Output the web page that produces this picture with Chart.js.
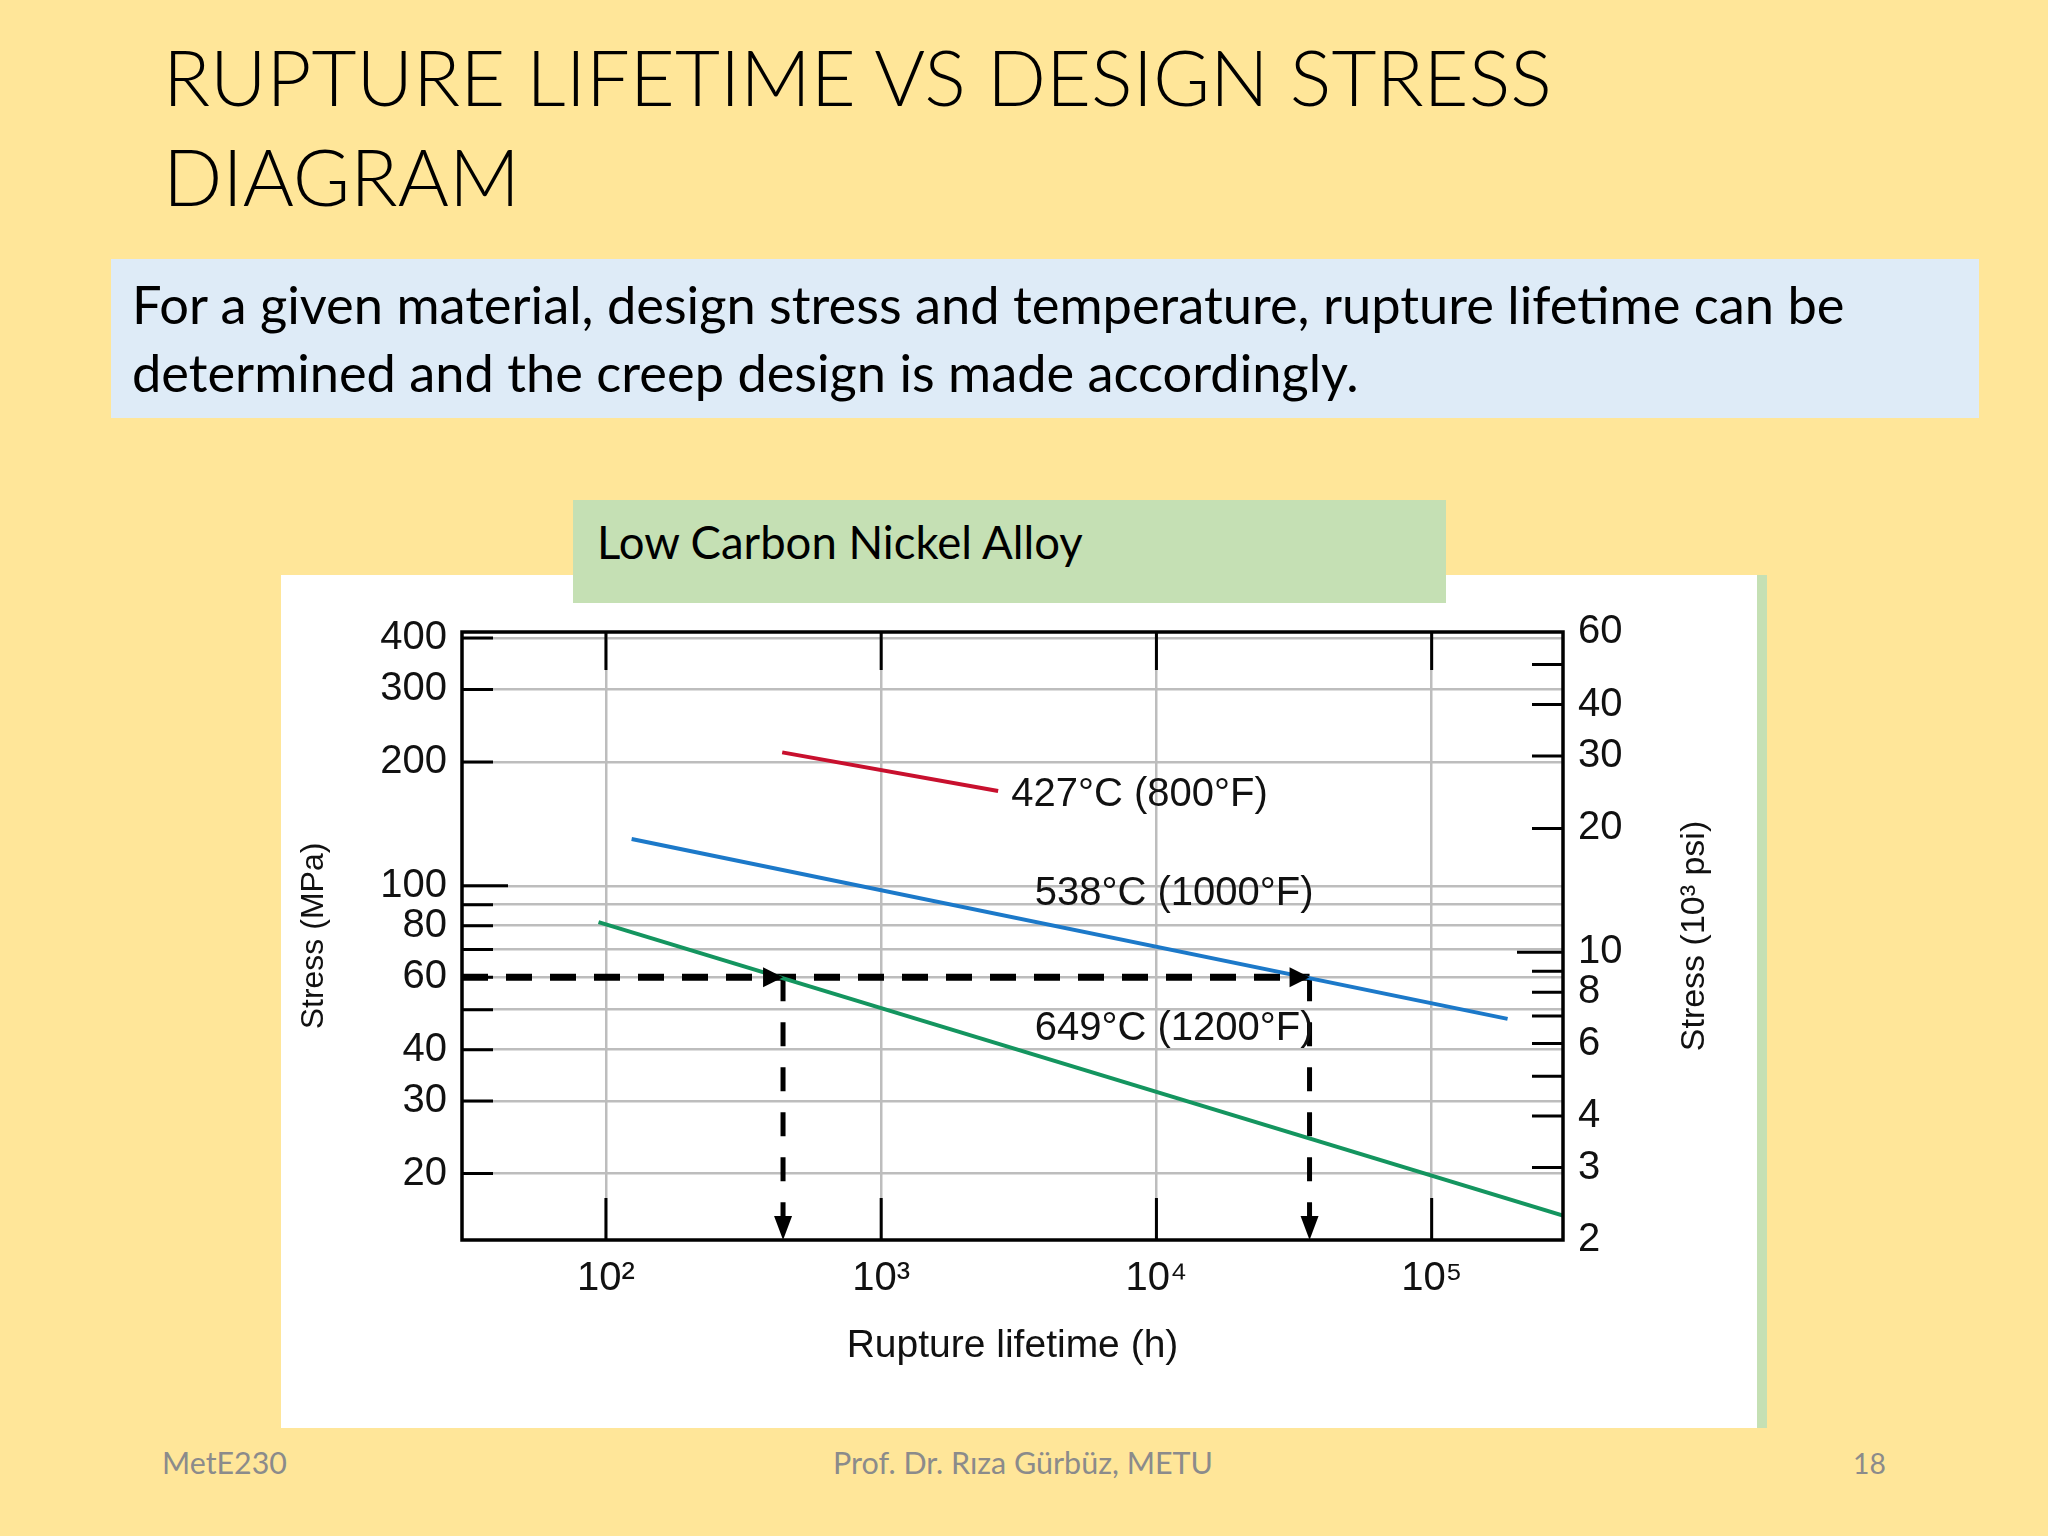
<!DOCTYPE html>
<html>
<head>
<meta charset="utf-8">
<script src="https://cdn.jsdelivr.net/npm/chart.js@4.4.1/dist/chart.umd.min.js"></script>
<style>
html, body { margin: 0; padding: 0; }
body { width: 2048px; height: 1536px; background: #FFE699; position: relative; overflow: hidden; font-family: Lato, "Open Sans", sans-serif; }
.box { position: absolute; }
.txt { position: absolute; white-space: nowrap; line-height: 1; color: #000; }
</style>
</head>
<body>
<div class="box" style="left:111px;top:259px;width:1868px;height:159px;background:#DEEBF7"></div>
<div class="box" style="left:281px;top:575px;width:1476px;height:853px;background:#fff"></div>
<div class="box" style="left:1757px;top:575px;width:10px;height:853px;background:#C5E0B4"></div>
<div class="box" style="left:573px;top:500px;width:873px;height:103px;background:#C5E0B4"></div>
<canvas id="chart" width="1476" height="853" style="position:absolute;left:281px;top:575px"></canvas>
<script>
// rupture lifetime (h) / stress (MPa), two ends of each line
const lifeRed = [437, 2660];
const stressRed = [211, 170];
const lifeBlue = [124, 188700];
const stressBlue = [130, 47.5];
const lifeGreen = [94, 300000];
const stressGreen = [81.6, 15.8];
const seriesNames = ['427°C (800°F)', '538°C (1000°F)', '649°C (1200°F)'];

// design stress example: 60 MPa -> ~440 h at 649°C, ~3.6x10^4 h at 538°C
const designStress = 60;
const lifeAt649 = 440;
const lifeAt538 = 36000;

// axes
const lifeMin = 30, lifeMax = 300000;
const ksiMin = 2, ksiMax = 60;
const MPA_PER_KSI = 6.89476;
const lifeTicks = [100, 1000, 10000, 100000];
const mpaTicks = [20, 30, 40, 50, 60, 70, 80, 90, 100, 200, 300, 400];
const mpaLabels = [20, 30, 40, 60, 80, 100, 200, 300, 400];
const ksiTicks = [3, 4, 5, 6, 7, 8, 9, 10, 20, 30, 40, 50];
const ksiLabels = [2, 3, 4, 6, 8, 10, 20, 30, 40, 60];

// where the curve names sit (h, MPa)
const nameLife = [2970, 3615, 3615];
const nameStress = [165.8, 95.8, 44.8];

const mpaMin = ksiMin * MPA_PER_KSI, mpaMax = ksiMax * MPA_PER_KSI;

// slide text, sized to the widths in the original slide
function place(text, left, baseline, width, opts) {
  opts = opts || {};
  const el = document.createElement('div');
  el.className = 'txt';
  el.textContent = text;
  el.style.fontSize = '60px';
  if (opts.weight) el.style.fontWeight = opts.weight;
  if (opts.color) el.style.color = opts.color;
  document.body.appendChild(el);
  let size = 60 * width / el.offsetWidth;
  el.style.fontSize = size + 'px';
  size = size * width / el.offsetWidth;
  el.style.fontSize = size + 'px';
  el.style.left = left + 'px';
  el.style.top = (baseline - 0.887 * size) + 'px';
}
place('RUPTURE LIFETIME VS DESIGN STRESS', 163, 107, 1389, {weight: 300});
place('DIAGRAM', 163, 206, 357, {weight: 300});
place('For a given material, design stress and temperature, rupture lifetime can be', 132, 324, 1713);
place('determined and the creep design is made accordingly.', 132, 392, 1226);
place('Low Carbon Nickel Alloy', 597, 559, 486);
place('MetE230', 162, 1474, 125, {color: '#8B8B8B'});
place('Prof. Dr. Rıza Gürbüz, METU', 833, 1474, 380, {color: '#8B8B8B'});
place('18', 1853, 1474, 33, {color: '#8B8B8B'});

function pts(xs, ys) {
  return xs.map((x, i) => ({x: x, y: ys[i]}));
}
const sup = {2: '²', 3: '³', 4: '⁴', 5: '⁵'};

Chart.defaults.font.family = '"Liberation Sans", Arial, sans-serif';
Chart.defaults.color = '#111';

const decor = {
  id: 'decor',
  afterDraw(chart) {
    const ctx = chart.ctx;
    const {left, right, top, bottom} = chart.chartArea;
    const xs = chart.scales.x, ys = chart.scales.y, ys2 = chart.scales.y2;
    ctx.save();
    ctx.strokeStyle = '#000';
    ctx.fillStyle = '#000';
    ctx.lineWidth = 3;
    ctx.beginPath();
    mpaTicks.forEach(v => {
      const py = ys.getPixelForValue(v);
      ctx.moveTo(left, py); ctx.lineTo(left + (v === 100 ? 46 : 31), py);
    });
    ksiTicks.forEach(v => {
      const py = ys2.getPixelForValue(v);
      ctx.moveTo(right, py); ctx.lineTo(right - (v === 10 ? 46 : 31), py);
    });
    lifeTicks.forEach(v => {
      const px = xs.getPixelForValue(v);
      ctx.moveTo(px, top); ctx.lineTo(px, top + 38);
      ctx.moveTo(px, bottom); ctx.lineTo(px, bottom - 42);
    });
    ctx.stroke();
    ctx.lineWidth = 3.5;
    ctx.strokeRect(left, top, right - left, bottom - top);

    // arrow heads
    const yd = ys.getPixelForValue(designStress);
    [lifeAt649, lifeAt538].forEach(v => {
      const px = xs.getPixelForValue(v);
      ctx.beginPath();
      ctx.moveTo(px, yd); ctx.lineTo(px - 20, yd - 10); ctx.lineTo(px - 20, yd + 10); ctx.closePath();
      ctx.fill();
      ctx.beginPath();
      ctx.moveTo(px, bottom); ctx.lineTo(px - 9, bottom - 24); ctx.lineTo(px + 9, bottom - 24); ctx.closePath();
      ctx.fill();
    });

    // curve names
    ctx.font = '40px "Liberation Sans", Arial, sans-serif';
    ctx.fillStyle = '#111';
    ctx.textAlign = 'left';
    ctx.textBaseline = 'middle';
    seriesNames.forEach((s, i) => {
      ctx.fillText(s, xs.getPixelForValue(nameLife[i]), ys.getPixelForValue(nameStress[i]));
    });

    // right axis title, reading upwards
    ctx.translate(1414, (top + bottom) / 2);
    ctx.rotate(-Math.PI / 2);
    ctx.textAlign = 'center';
    ctx.font = '34px "Liberation Sans", Arial, sans-serif';
    ctx.fillText('Stress (10³ psi)', 0, 0);
    ctx.restore();
  }
};

const ctx = document.getElementById('chart').getContext('2d');
const chart = new Chart(ctx, {
  type: 'line',
  data: {
    datasets: [
      {label: seriesNames[0], data: pts(lifeRed, stressRed), borderColor: '#C8102E', borderWidth: 4, pointRadius: 0},
      {label: seriesNames[1], data: pts(lifeBlue, stressBlue), borderColor: '#1C79C9', borderWidth: 4, pointRadius: 0},
      {label: seriesNames[2], data: pts(lifeGreen, stressGreen), borderColor: '#14955F', borderWidth: 4, pointRadius: 0},
      {label: 'design', data: [{x: lifeMin, y: designStress}, {x: lifeAt538, y: designStress}],
        borderColor: '#000', borderWidth: 7, borderDash: [26, 18], pointRadius: 0},
      {label: 'life649', data: [{x: lifeAt649, y: designStress}, {x: lifeAt649, y: mpaMin}],
        borderColor: '#000', borderWidth: 5, borderDash: [24, 21], pointRadius: 0},
      {label: 'life538', data: [{x: lifeAt538, y: designStress}, {x: lifeAt538, y: mpaMin}],
        borderColor: '#000', borderWidth: 5, borderDash: [24, 21], pointRadius: 0}
    ]
  },
  options: {
    responsive: false,
    animation: false,
    layout: {padding: {top: 57, left: 0, right: 0, bottom: 0}},
    plugins: {legend: {display: false}, tooltip: {enabled: false}},
    scales: {
      x: {
        type: 'logarithmic',
        min: lifeMin,
        max: lifeMax,
        afterBuildTicks: s => { s.ticks = lifeTicks.map(v => ({value: v})); },
        afterFit: s => { s.height = 188; },
        grid: {color: '#BDBDBD', lineWidth: 2.5, drawTicks: false},
        border: {display: false},
        ticks: {
          autoSkip: false, maxRotation: 0, padding: 15, font: {size: 40},
          callback: v => '10' + sup[Math.round(Math.log10(v))]
        },
        title: {display: true, text: 'Rupture lifetime (h)', font: {size: 39}, padding: {top: 0, bottom: 58}}
      },
      y: {
        type: 'logarithmic',
        position: 'left',
        min: mpaMin,
        max: mpaMax,
        afterBuildTicks: s => { s.ticks = mpaTicks.map(v => ({value: v})); },
        afterFit: s => { s.width = 181; },
        grid: {color: '#BDBDBD', lineWidth: 2.5, drawTicks: false},
        border: {display: false},
        ticks: {
          autoSkip: false, padding: 15, font: {size: 40},
          callback: v => mpaLabels.includes(v) ? String(v) : ''
        },
        title: {display: true, text: 'Stress (MPa)', font: {size: 32}, padding: {top: 14, bottom: 0}}
      },
      y2: {
        type: 'logarithmic',
        position: 'right',
        min: ksiMin,
        max: ksiMax,
        afterBuildTicks: s => { s.ticks = ksiLabels.map(v => ({value: v})); },
        afterFit: s => { s.width = 194; },
        grid: {drawOnChartArea: false, drawTicks: false},
        border: {display: false},
        ticks: {autoSkip: false, padding: 15, font: {size: 40}, callback: v => String(v)}
      }
    }
  },
  plugins: [decor]
});
</script>
</body>
</html>
